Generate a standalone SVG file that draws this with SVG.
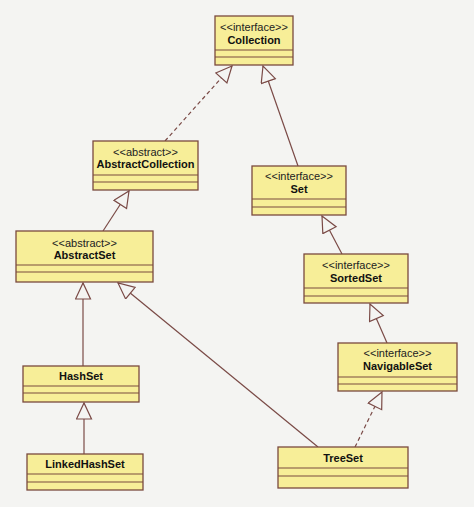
<svg xmlns="http://www.w3.org/2000/svg" width="474" height="507" viewBox="0 0 474 507">
<style>
.box{fill:#f7ee98;stroke:#7a4a3e;stroke-width:1.3}
.sep{stroke:#7a4a3e;stroke-width:1.1}
.st{font-family:"Liberation Sans",Arial,sans-serif;font-size:11px;fill:#222;text-anchor:middle}
.nm{font-family:"Liberation Sans",Arial,sans-serif;font-size:11px;font-weight:bold;fill:#111;text-anchor:middle}
.ln{fill:none;stroke:#7a4a46;stroke-width:1.2}
.dash{stroke-dasharray:4,3}
</style>
<defs>
<marker id="tri" markerUnits="userSpaceOnUse" markerWidth="20" markerHeight="18" refX="17" refY="8" orient="auto" viewBox="0 0 20 18">
<path d="M1,0.5 L17,8 L1,15.5 Z" fill="#f4f4f2" stroke="#7a4a46" stroke-width="1.2"/>
</marker>
</defs>
<rect width="474" height="507" fill="#f4f4f2"/>
<g id="connectors">
<line class="ln dash" x1="165" y1="141" x2="232" y2="66" marker-end="url(#tri)"/>
<line class="ln" x1="298" y1="166" x2="263" y2="66" marker-end="url(#tri)"/>
<line class="ln" x1="103" y1="231" x2="129" y2="191" marker-end="url(#tri)"/>
<line class="ln" x1="83" y1="366" x2="83" y2="283" marker-end="url(#tri)"/>
<line class="ln" x1="84" y1="454" x2="84" y2="403" marker-end="url(#tri)"/>
<line class="ln" x1="318" y1="447" x2="118" y2="283" marker-end="url(#tri)"/>
<line class="ln dash" x1="355" y1="447" x2="382" y2="392" marker-end="url(#tri)"/>
<line class="ln" x1="342" y1="254" x2="322" y2="216" marker-end="url(#tri)"/>
<line class="ln" x1="387" y1="343" x2="370" y2="304" marker-end="url(#tri)"/>
</g>
<g id="Collection">
<rect class="box" x="215" y="16" width="78" height="49"/>
<line class="sep" x1="215" y1="50" x2="293" y2="50"/>
<line class="sep" x1="215" y1="57" x2="293" y2="57"/>
<text class="st" x="254" y="31">&lt;&lt;interface&gt;&gt;</text>
<text class="nm" x="254" y="44">Collection</text>
</g>
<g id="AbstractCollection">
<rect class="box" x="93" y="141" width="105" height="49"/>
<line class="sep" x1="93" y1="175" x2="198" y2="175"/>
<line class="sep" x1="93" y1="182" x2="198" y2="182"/>
<text class="st" x="145.5" y="156">&lt;&lt;abstract&gt;&gt;</text>
<text class="nm" x="145.5" y="168">AbstractCollection</text>
</g>
<g id="AbstractSet">
<rect class="box" x="16" y="231" width="137" height="51"/>
<line class="sep" x1="16" y1="265" x2="153" y2="265"/>
<line class="sep" x1="16" y1="272" x2="153" y2="272"/>
<text class="st" x="84.5" y="247">&lt;&lt;abstract&gt;&gt;</text>
<text class="nm" x="84.5" y="259">AbstractSet</text>
</g>
<g id="Set">
<rect class="box" x="252" y="166" width="94" height="49"/>
<line class="sep" x1="252" y1="199" x2="346" y2="199"/>
<line class="sep" x1="252" y1="207" x2="346" y2="207"/>
<text class="st" x="299" y="180">&lt;&lt;interface&gt;&gt;</text>
<text class="nm" x="299" y="193">Set</text>
</g>
<g id="SortedSet">
<rect class="box" x="304" y="254" width="104" height="49"/>
<line class="sep" x1="304" y1="288" x2="408" y2="288"/>
<line class="sep" x1="304" y1="296" x2="408" y2="296"/>
<text class="st" x="356" y="269">&lt;&lt;interface&gt;&gt;</text>
<text class="nm" x="356" y="282">SortedSet</text>
</g>
<g id="NavigableSet">
<rect class="box" x="338" y="343" width="119" height="48"/>
<line class="sep" x1="338" y1="377" x2="457" y2="377"/>
<line class="sep" x1="338" y1="384" x2="457" y2="384"/>
<text class="st" x="397.5" y="357">&lt;&lt;interface&gt;&gt;</text>
<text class="nm" x="397.5" y="370">NavigableSet</text>
</g>
<g id="HashSet">
<rect class="box" x="23" y="366" width="116" height="36"/>
<line class="sep" x1="23" y1="386" x2="139" y2="386"/>
<line class="sep" x1="23" y1="393" x2="139" y2="393"/>
<text class="nm" x="81" y="380">HashSet</text>
</g>
<g id="LinkedHashSet">
<rect class="box" x="27" y="454" width="116" height="36"/>
<line class="sep" x1="27" y1="474" x2="143" y2="474"/>
<line class="sep" x1="27" y1="482" x2="143" y2="482"/>
<text class="nm" x="85" y="468">LinkedHashSet</text>
</g>
<g id="TreeSet">
<rect class="box" x="278" y="447" width="130" height="41"/>
<line class="sep" x1="278" y1="468" x2="408" y2="468"/>
<line class="sep" x1="278" y1="476" x2="408" y2="476"/>
<text class="nm" x="343" y="462">TreeSet</text>
</g>
</svg>
